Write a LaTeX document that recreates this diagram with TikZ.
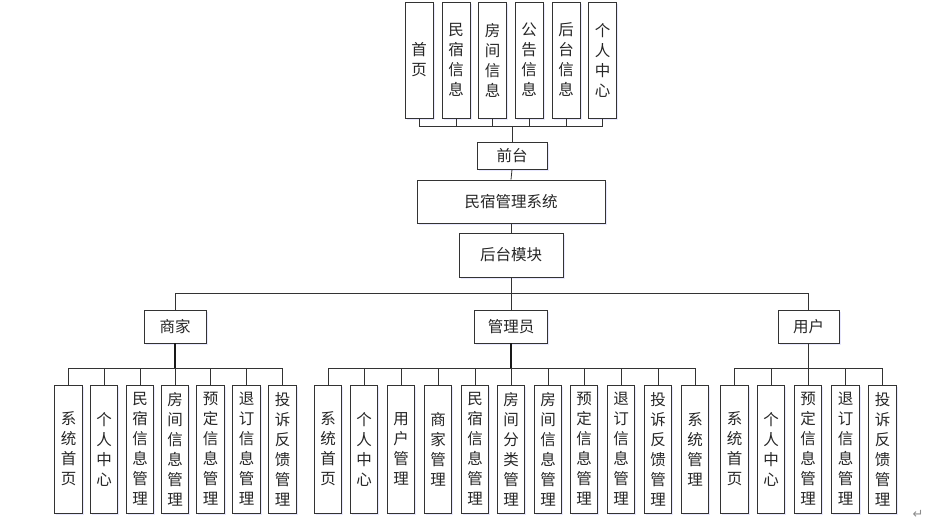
\documentclass[tikz,border=0pt]{standalone}
\usepackage{fontspec}
\newfontfamily\cjk{Noto Sans CJK SC}
\newfontfamily\symf{DejaVu Sans}
\usetikzlibrary{shadows}
\begin{document}
\begin{tikzpicture}[x=1pt,y=-1pt,
  box/.style={draw=black!80, line width=0.9pt, fill=white, inner sep=0pt, align=center,
    font=\cjk\fontsize{15.5}{20}\selectfont, text=black!85,
    drop shadow={opacity=0.3, fill=blue!30, shadow xshift=1.5pt, shadow yshift=-1.5pt}},
  vbox/.style={box, minimum width=28, minimum height=116},
  cbox/.style={box, minimum width=27.5, minimum height=128},
  hbox/.style={box},
  ln/.style={draw=black!80, line width=0.8pt},
  tk/.style={draw=black!90, line width=1.6pt}]
\useasboundingbox (0,0) rectangle (948,522);
% top level
\node[vbox] (t1) at (419,60) {首\\页};
\node[vbox] (t2) at (456,60) {民\\宿\\信\\息};
\node[vbox] (t3) at (492.5,60) {房\\间\\信\\息};
\node[vbox] (t4) at (529,60) {公\\告\\信\\息};
\node[vbox] (t5) at (566,60) {后\\台\\信\\息};
\node[vbox] (t6) at (602.5,60) {个\\人\\中\\心};
\node[hbox, minimum width=70, minimum height=27] (qt) at (512,155.5) {前台};
\node[hbox, minimum width=188, minimum height=43] (sys) at (511,201.5) {民宿管理系统};
\node[hbox, minimum width=104, minimum height=44] (ht) at (511,255) {后台模块};
\node[hbox, minimum width=62, minimum height=33] (sj) at (175,326.5) {商家};
\node[hbox, minimum width=73, minimum height=33] (gly) at (511,326.5) {管理员};
\node[hbox, minimum width=61, minimum height=33] (yh) at (808.5,326.5) {用户};
% merchant children
\node[cbox] (s1) at (68.5,449) {系\\统\\首\\页};
\node[cbox] (s2) at (104,449) {个\\人\\中\\心};
\node[cbox] (s3) at (140,449) {民\\宿\\信\\息\\管\\理};
\node[cbox] (s4) at (175,449) {房\\间\\信\\息\\管\\理};
\node[cbox] (s5) at (210.5,449) {预\\定\\信\\息\\管\\理};
\node[cbox] (s6) at (246.5,449) {退\\订\\信\\息\\管\\理};
\node[cbox] (s7) at (282.5,449) {投\\诉\\反\\馈\\管\\理};
% admin children
\node[cbox] (a1) at (328,449) {系\\统\\首\\页};
\node[cbox] (a2) at (364,449) {个\\人\\中\\心};
\node[cbox] (a3) at (401,449) {用\\户\\管\\理};
\node[cbox] (a4) at (438,449) {商\\家\\管\\理};
\node[cbox] (a5) at (475,449) {民\\宿\\信\\息\\管\\理};
\node[cbox] (a6) at (511,449) {房\\间\\分\\类\\管\\理};
\node[cbox] (a7) at (548,449) {房\\间\\信\\息\\管\\理};
\node[cbox] (a8) at (584,449) {预\\定\\信\\息\\管\\理};
\node[cbox] (a9) at (621,449) {退\\订\\信\\息\\管\\理};
\node[cbox] (a10) at (658,449) {投\\诉\\反\\馈\\管\\理};
\node[cbox] (a11) at (695,449) {系\\统\\管\\理};
% user children
\node[cbox] (u1) at (734.5,449) {系\\统\\首\\页};
\node[cbox] (u2) at (771,449) {个\\人\\中\\心};
\node[cbox] (u3) at (808,449) {预\\定\\信\\息\\管\\理};
\node[cbox] (u4) at (845.5,449) {退\\订\\信\\息\\管\\理};
\node[cbox] (u5) at (882.5,449) {投\\诉\\反\\馈\\管\\理};
% bus coordinates
\coordinate (tb) at (512,126);
\coordinate (mb) at (511,293);
\coordinate (sb) at (175,368);
\coordinate (ab) at (511,368);
\coordinate (ub) at (808.5,368);
% connectors
\foreach \n in {t1,t2,t3,t4,t5,t6} \draw[ln] (\n.south) |- (tb);
\draw[ln] (tb) -- (qt.north);
\draw[ln] (qt.south) -- (sys.north);
\draw[ln] (sys.south) -- (ht.north);
\draw[ln] (sj.north) |- (mb);
\draw[ln] (yh.north) |- (mb);
\draw[ln] (ht.south) -- (gly.north);
\draw[tk] (sj.south) -- (sb);
\draw[tk] (gly.south) -- (ab);
\draw[ln] (yh.south) -- (ub);
\foreach \n in {s1,s2,s3,s4,s5,s6,s7} \draw[ln] (\n.north) |- (sb);
\foreach \n in {a1,a2,a3,a4,a5,a6,a7,a8,a9,a10,a11} \draw[ln] (\n.north) |- (ab);
\foreach \n in {u1,u2,u3,u4,u5} \draw[ln] (\n.north) |- (ub);
\node[text=black!45, font=\symf\fontsize{13}{13}\selectfont, inner sep=0pt] (pm) at (918,514) {↵};
\end{tikzpicture}
\end{document}
